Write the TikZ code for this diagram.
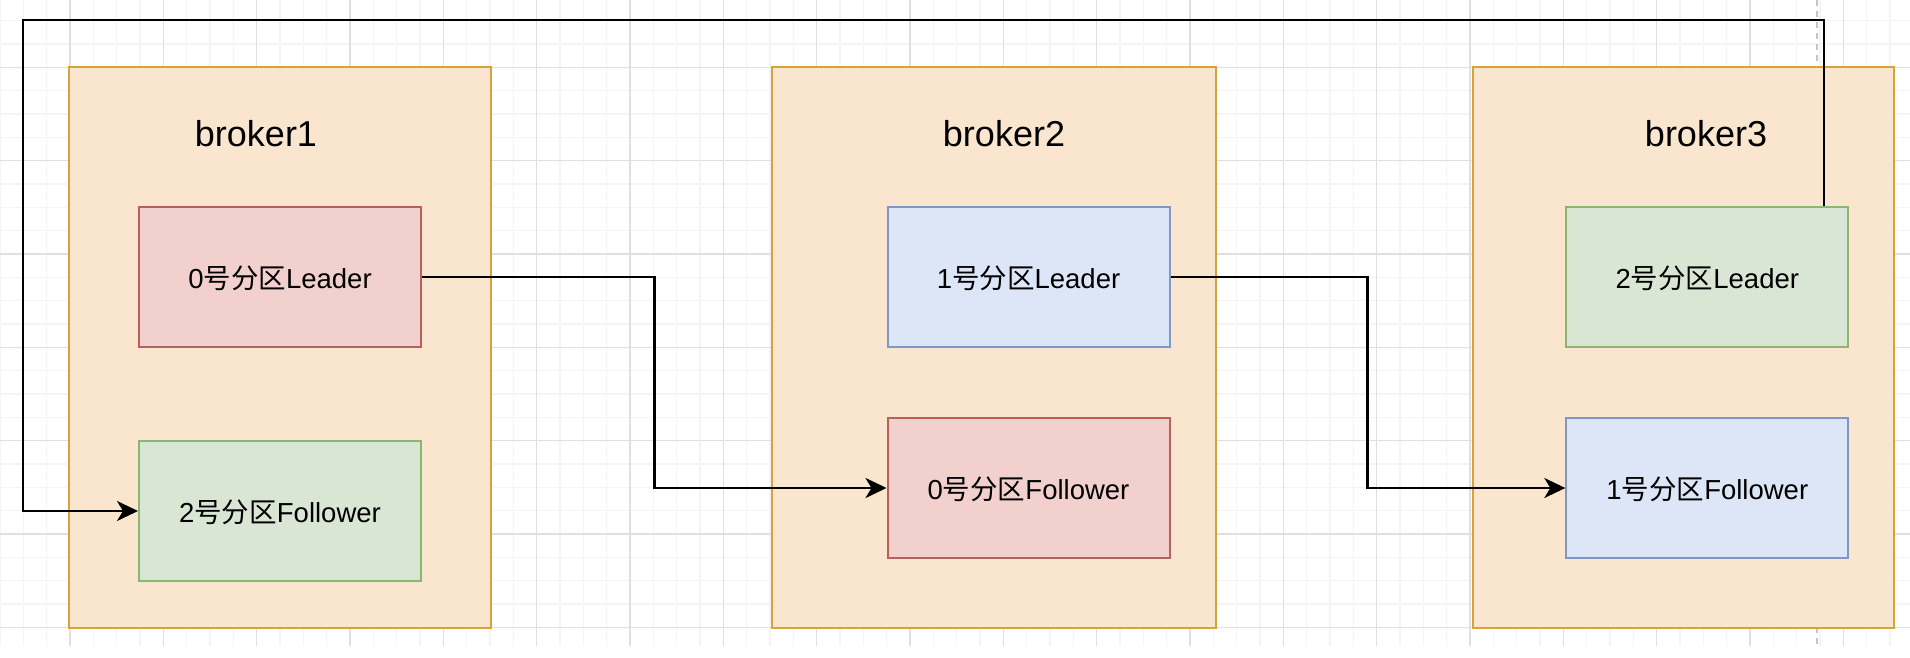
\documentclass[tikz,border=0pt]{standalone}
\usepackage{fontspec}
\setmainfont{Liberation Sans}
\newfontfamily\cjk{Noto Sans CJK SC}
\usetikzlibrary{arrows.meta}
\definecolor{ofill}{HTML}{FAE6CF}
\definecolor{odraw}{HTML}{D8A13A}
\definecolor{rfill}{HTML}{F2D0CD}
\definecolor{rdraw}{HTML}{B9605B}
\definecolor{gfill}{HTML}{D9E6D4}
\definecolor{gdraw}{HTML}{8DB572}
\definecolor{bfill}{HTML}{DCE6F7}
\definecolor{bdraw}{HTML}{7E97C6}
\definecolor{gridminor}{HTML}{F4F4F4}
\definecolor{gridmajor}{HTML}{E0E0E0}
\definecolor{pagebrk}{HTML}{C4C4C4}
\tikzset{
  broker/.style={draw=odraw, fill=ofill, line width=2.2pt, rectangle, minimum height=561.3pt, inner sep=0pt},
  part/.style={rectangle, line width=2pt, minimum width=282pt, minimum height=140.5pt, inner sep=0pt,
    font=\fontsize{27.5}{31}\selectfont, text height=22.5pt, text depth=0pt},
  redbox/.style={part, draw=rdraw, fill=rfill},
  greenbox/.style={part, draw=gdraw, fill=gfill},
  bluebox/.style={part, draw=bdraw, fill=bfill},
  blabel/.style={anchor=base, font=\fontsize{36}{40}\selectfont, inner sep=0pt},
  conn/.style={draw=black, line width=2.4pt, -{Stealth[length=21pt, width=20pt, inset=6pt]}},
}
\begin{document}
\begin{tikzpicture}[x=1pt, y=-1pt]
\useasboundingbox (0,0) rectangle (1910,658);
\fill[white] (0,0) rectangle (1910,658);
% grid
\foreach \i in {0,...,82} {
  \draw[gridminor, line width=1.5pt] ({\i*23.3333},0) -- ({\i*23.3333},645.7);
}
\foreach \j in {1,...,27} {
  \draw[gridminor, line width=1.5pt] (0,{-2.67+\j*23.3333}) -- (1910,{-2.67+\j*23.3333});
}
\foreach \i in {0,...,20} {
  \draw[gridmajor, line width=1.5pt] ({70+\i*93.3333},0) -- ({70+\i*93.3333},645.7);
}
\foreach \j in {0,...,6} {
  \draw[gridmajor, line width=1.5pt] (0,{67.33+\j*93.3333}) -- (1910,{67.33+\j*93.3333});
}
% page break
\draw[pagebrk, line width=2pt, dash pattern=on 6pt off 5pt] (1817,0) -- (1817,645.7);

% brokers
\node[broker, minimum width=422pt] (b1) at (280,347.3) {};
\node[broker, minimum width=444pt] (b2) at (993.7,347.3) {};
\node[broker, minimum width=421.3pt] (b3) at (1683.3,347.3) {};
\node[blabel] (t1) at (256,146.7) {broker1};
\node[blabel] (t2) at (1004,146.7) {broker2};
\node[blabel] (t3) at (1706,146.7) {broker3};

% partitions
\node[redbox] (l0) at (280,277) {0{\cjk 号分区}Leader};
\node[greenbox] (f2) at (280,511) {2{\cjk 号分区}Follower};
\node[bluebox] (l1) at (1028.5,277) {1{\cjk 号分区}Leader};
\node[redbox] (f0) at (1028.5,488) {0{\cjk 号分区}Follower};
\node[greenbox] (l2) at (1707.3,277) {2{\cjk 号分区}Leader};
\node[bluebox] (f1) at (1707.3,488) {1{\cjk 号分区}Follower};

% connectors
\coordinate (m1) at (654.5,0);
\coordinate (m2) at (1367.5,0);
\coordinate (tr) at (1824,20);
\coordinate (tl) at (22.7,20);
\draw[conn] (l0.east) -- (l0.east -| m1) |- (f0.west);
\draw[conn] (l1.east) -- (l1.east -| m2) |- (f1.west);
\draw[conn] (tr |- l2.north) -- (tr) -- (tl) |- (f2.west);
\end{tikzpicture}
\end{document}
